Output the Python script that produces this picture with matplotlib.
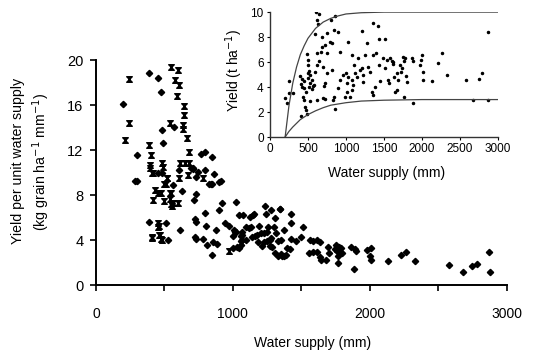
import numpy as np
import matplotlib
matplotlib.use("Agg")
import matplotlib.pyplot as plt
from matplotlib.path import Path

plt.rcParams['font.family'] = ['Liberation Sans', 'DejaVu Sans']

# main plot: water productivity vs water supply, two groups of sites
hour_x = [215, 239, 244, 390, 402, 395, 407, 483, 493, 500, 520, 512, 434, 454, 476, 551,
          415, 498, 544, 551, 556, 602, 454, 456, 410, 459, 476, 544, 549, 602, 580, 605,
          593, 646, 641, 634, 639, 666, 676, 617, 651, 683, 671, 785, 394, 518, 608, 414,
          973, 406, 467, 482, 462, 540, 560]
hour_y = [12.9, 14.4, 18.3, 12.5, 11.6, 10.7, 10.0, 10.9, 10.5, 9.0, 9.5, 9.0, 8.5, 8.2, 8.2, 8.2,
          7.6, 7.5, 7.7, 7.2, 7.0, 7.3, 5.5, 5.2, 4.3, 4.5, 4.1, 14.4, 19.4, 19.1, 18.2, 17.8,
          16.8, 15.9, 15.1, 14.2, 13.9, 13.1, 11.8, 10.9, 10.9, 10.9, 9.8, 9.5, 10.4, 9.5, 9.5, 10.0,
          3.0, 4.2, 4.5, 4.0, 5.3, 8.2, 7.3]

dia_x = [195, 300, 288, 390, 456, 476, 480, 488, 451, 483, 612, 390, 510, 527, 571, 605,
         566, 632, 695, 712, 729, 768, 795, 849, 797, 861, 824, 849, 902, 732, 715, 920,
         898, 798, 1020, 724, 730, 805, 878, 720, 734, 785, 810, 854, 883, 846, 941, 971,
         1007, 1024, 1000, 1027, 1044, 1061, 1061, 1058, 1098, 1134, 1146, 1122, 1237, 1241,
         1280, 1341, 1354, 1372, 1390, 1046, 1075, 1066, 1070, 1070, 1095, 1119, 1151, 1143,
         1160, 1175, 1190, 1205, 1225, 1248, 1180, 1209, 1229, 1260, 1272, 1285, 998, 1017,
         1343, 1306, 1421, 1421, 1302, 1375, 1513, 1282, 1331, 1355, 1428, 1460, 1494, 1270,
         1306, 1331, 1362, 1416, 1562, 1586, 1611, 1635, 1557, 1586, 1615, 1635, 1647, 1679,
         1696, 1703, 1745, 1755, 1762, 1770, 1778, 1764, 1793, 1798, 1866, 1890, 1898, 1885,
         1976, 2005, 2000, 2012, 2134, 2226, 2263, 2328, 2579, 2681, 2749, 2783, 2868, 2876,
         297, 706, 742, 839, 912, 1250, 1315, 1395]
dia_y = [16.1, 11.6, 9.3, 18.9, 18.4, 17.2, 13.8, 12.6, 10.0, 10.0, 4.9, 5.6, 5.5, 4.0, 14.1, 10.2,
         8.9, 8.4, 10.4, 10.3, 9.6, 11.7, 11.8, 11.4, 10.2, 9.9, 9.0, 9.0, 9.2, 8.1, 7.6, 7.3,
         6.7, 6.4, 7.4, 5.9, 5.6, 5.3, 4.9, 4.3, 4.1, 4.1, 3.6, 3.8, 3.7, 2.7, 5.5, 5.3,
         4.9, 4.7, 3.3, 3.4, 3.3, 4.4, 3.9, 3.6, 5.2, 5.2, 6.2, 6.1, 7.0, 6.3,
         6.7, 6.8, 2.75, 2.6, 2.7, 6.2, 6.2, 4.7, 4.5, 4.0, 4.0, 5.1, 6.3, 4.3,
         4.4, 4.5, 5.3, 4.6, 4.6, 4.7, 3.8, 3.5, 3.8, 5.2, 4.0, 3.4, 4.4, 4.7,
         6.76, 6.0, 6.3, 5.54, 5.2, 4.9, 5.2, 4.15, 3.91, 4.0, 4.06, 3.91, 4.24, 3.47,
         2.82, 2.58, 2.58, 3.2, 4.0, 3.91, 4.0, 3.85, 2.87, 2.93, 2.93, 2.46, 2.22, 2.22,
         3.4, 2.87, 3.2, 3.6, 3.0, 2.6, 3.4, 1.93, 3.3, 2.9, 3.4, 3.2, 3.0, 1.48,
         3.1, 3.3, 2.58, 2.28, 2.13, 2.67, 2.96, 2.19, 1.78, 1.19, 1.69, 1.87, 2.96, 1.13,
         9.3, 10.4, 10.1, 9.0, 9.3, 3.9, 4.6, 3.3]

# inset: yield vs water supply
in_x = [197, 228, 246, 254, 307, 395, 417, 404, 447, 417, 452, 474, 430, 452, 408, 465,
        474, 482, 491, 504, 496, 513, 496, 526, 504, 548, 526, 561, 518, 548, 579, 526,
        601, 649, 614, 636, 592, 614, 649, 614, 592, 623, 671, 689, 724, 680, 746, 789,
        811, 842, 855, 807, 899, 746, 702, 746, 724, 711, 693, 724, 811, 825, 847, 855,
        890, 921, 921, 965, 1000, 1031, 1009, 1009, 987, 1053, 1075, 1031, 1075, 1105, 1118, 1140,
        1075, 1096, 1206, 1162, 1184, 1206, 1228, 1228, 1250, 1272, 1294, 1316, 1338, 1351, 1351, 1360,
        1382, 1390, 1417, 1434, 1439, 1447, 1513, 1491, 1513, 1557, 1570, 1579, 1601, 1623, 1614, 1544,
        1632, 1667, 1689, 1645, 1675, 1711, 1732, 1719, 1754, 1776, 1763, 1763, 1789, 1798, 1886, 1864,
        1886, 1982, 1996, 1974, 2009, 2009, 2127, 2215, 2259, 2325, 2579, 2754, 2785, 2868, 2873, 2675]
in_y = [3.16, 2.76, 3.49, 4.48, 3.49, 4.88, 4.61, 4.24, 4.48, 3.97, 3.89, 3.62, 3.22, 2.95, 1.69, 2.41,
        2.14, 1.88, 6.65, 6.17, 5.76, 5.31, 5.09, 4.96, 4.69, 4.56, 4.29, 4.08, 3.97, 3.81, 4.16, 2.9,
        9.97, 9.84, 9.33, 9.06, 8.26, 6.7, 6.11, 5.76, 5.17, 3.0, 6.78, 7.24, 7.37, 7.99, 8.31, 7.64,
        7.51, 8.53, 9.71, 9.38, 8.39, 6.7, 5.63, 5.09, 4.29, 4.08, 3.14, 3.03, 5.36, 2.95, 3.22, 2.28,
        3.89, 6.84, 4.56, 4.96, 5.09, 4.83, 4.29, 3.62, 3.22, 3.22, 3.75, 7.64, 6.57, 5.76, 5.15, 4.83,
        4.56, 4.16, 8.5, 6.3, 5.36, 5.5, 4.96, 4.42, 6.57, 7.51, 5.63, 5.23, 3.62, 9.12, 6.57, 3.35,
        4.02, 6.7, 8.9, 7.83, 5.76, 4.5, 7.83, 6.3, 5.5, 4.56, 4.34, 6.3, 6.09, 6.03, 5.84, 6.17,
        4.83, 5.09, 4.56, 3.62, 3.75, 5.76, 5.5, 5.23, 6.43, 6.3, 6.11, 3.22, 4.88, 4.42, 2.76, 6.3,
        6.11, 6.17, 6.57, 5.76, 5.23, 4.56, 4.5, 5.9, 6.7, 4.96, 4.56, 4.64, 5.15, 8.4, 3.0, 2.95]

# envelope curves
up_x = [200, 250, 300, 350, 400, 450, 500, 600, 700, 800, 900, 1000, 1200, 1500, 3000]
up_y = [0, 2.5, 4.3, 5.6, 6.6, 7.3, 7.9, 8.7, 9.2, 9.5, 9.7, 9.85, 9.95, 10, 10]
lo_x = [200, 250, 300, 400, 500, 600, 700, 800, 1000, 1200, 1500, 2000, 3000]
lo_y = [0, 0.45, 0.8, 1.4, 1.8, 2.1, 2.35, 2.55, 2.75, 2.88, 2.95, 3.0, 3.0]

hourglass = Path([(-1, 1), (1, 1), (-1, -1), (1, -1), (-1, 1)],
                 [Path.MOVETO, Path.LINETO, Path.LINETO, Path.LINETO, Path.CLOSEPOLY])

fig = plt.figure(figsize=(5.42, 3.56), dpi=100)
ax = fig.add_axes([0.177, 0.199, 0.758, 0.632])
ax.plot(dia_x, dia_y, 'D', color='black', markersize=3.2, linestyle='none')
ax.plot(hour_x, hour_y, marker=hourglass, color='black', markersize=4, linestyle='none')
ax.set_xlim(0, 3000)
ax.set_ylim(0, 20)
ax.set_xticks(np.arange(0, 3001, 500))
ax.set_xticklabels(['0', '', '1000', '', '2000', '', '3000'])
ax.set_yticks(np.arange(0, 21, 4))
for s in ['top', 'right']:
    ax.spines[s].set_visible(False)
for s in ['left', 'bottom']:
    ax.spines[s].set_linewidth(1.4)
ax.tick_params(axis='x', length=4, width=1.2, labelsize=10, pad=12)
ax.tick_params(axis='y', length=4, width=1.2, labelsize=10.5, pad=5)
ax.set_xlabel('Water supply (mm)', fontsize=10)
ax.xaxis.set_label_coords(0.528, -0.225)
ax.set_ylabel('Yield per unit water supply\n(kg grain ha$^{-1}$ mm$^{-1}$)', fontsize=10.2,
              linespacing=1.35)
ax.yaxis.set_label_coords(-0.108, 0.55)

ins = fig.add_axes([0.498, 0.615, 0.421, 0.351])
ins.plot(in_x, in_y, 'o', color='black', markersize=1.5, linestyle='none')
ins.plot(up_x, up_y, color='#444444', linewidth=0.9)
ins.plot(lo_x, lo_y, color='#444444', linewidth=0.9)
ins.set_xlim(0, 3000)
ins.set_ylim(0, 10)
ins.set_xticks(np.arange(0, 3001, 500))
ins.set_yticks(np.arange(0, 11, 2))
for s in ['top', 'right']:
    ins.spines[s].set_visible(False)
for s in ['left', 'bottom']:
    ins.spines[s].set_linewidth(1.0)
    ins.spines[s].set_color('#333333')
ins.tick_params(length=2.5, width=0.8, labelsize=8.5, pad=2)
ins.set_xlabel('Water supply (mm)', fontsize=10)
ins.xaxis.set_label_coords(0.513, -0.23)
ins.set_ylabel('Yield (t ha$^{-1}$)', fontsize=10)
ins.yaxis.set_label_coords(-0.11, 0.53)

fig.savefig('out.png', dpi=100)
